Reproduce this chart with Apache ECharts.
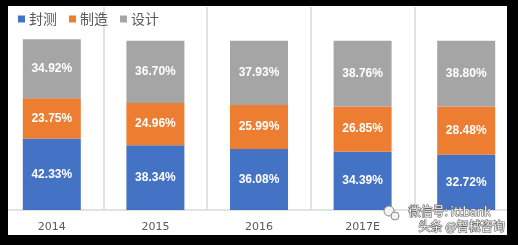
<!DOCTYPE html>
<html>
<head>
<meta charset="utf-8">
<script src="https://cdn.jsdelivr.net/npm/echarts@6/dist/echarts.min.js"></script>
<style>
  html, body { margin: 0; padding: 0; background: #000; }
  #chart { width: 518px; height: 245px; }
</style>
</head>
<body>
<div id="chart"></div>
<script>
const years = ['2014', '2015', '2016', '2017E', '2018E']
const fengce = [42.33, 38.34, 36.08, 34.39, 32.72]
const zhizao = [23.75, 24.96, 25.99, 26.85, 28.48]
const sheji = [34.92, 36.70, 37.93, 38.76, 38.80]

const colors = ['#4472c4', '#ed7d31', '#a5a5a5']

const chart = echarts.init(document.getElementById('chart'))

const barSeries = (name, data, idx) => {
  return {
    name: name,
    type: 'bar',
    stack: 'total',
    barWidth: 58,
    itemStyle: { color: colors[idx] },
    label: {
      show: true,
      position: 'inside',
      color: '#fff',
      fontSize: 12,
      fontWeight: 'bold',
      fontFamily: 'Liberation Sans',
      formatter: p => p.value.toFixed(2) + '%'
    },
    data: data
  }
}

// 水印
const markStyle = { fill: '#f4f4f4', fontFamily: 'Noto Sans CJK SC', stroke: '#666', lineWidth: 1.2 }

chart.setOption({
  backgroundColor: '#000',
  animation: false,
  legend: {
    left: 13,
    top: 7,
    itemWidth: 7,
    itemHeight: 7,
    itemGap: 12,
    icon: 'rect',
    textStyle: { color: '#595959', fontSize: 14, fontFamily: 'Noto Sans CJK SC', padding: [0, 0, 0, -1] },
    data: ['封测', '制造', '设计']
  },
  grid: { left: 0, top: 7, width: 522, height: 203 },
  xAxis: {
    type: 'category',
    data: years,
    axisLine: { lineStyle: { color: '#d9d9d9', width: 1.5 } },
    axisTick: { show: false },
    axisLabel: { color: '#595959', fontSize: 11, margin: 12, fontFamily: 'DejaVu Sans' },
    splitLine: { show: true, lineStyle: { color: '#d9d9d9', width: 1.5 } }
  },
  yAxis: {
    type: 'value',
    min: 0,
    max: 120,
    show: false,
    splitLine: { show: false }
  },
  graphic: [
    { type: 'rect', z: -10, silent: true, shape: { x: 8, y: 6, width: 499, height: 229 }, style: { fill: '#fff' } },
    { type: 'rect', z: 40, silent: true, shape: { x: 440, y: 216, width: 67, height: 19 }, style: { fill: '#fff' } },
    { type: 'rect', z: 100, silent: true, shape: { x: 0, y: 0, width: 518, height: 6 }, style: { fill: '#000' } },
    { type: 'rect', z: 100, silent: true, shape: { x: 0, y: 0, width: 8, height: 245 }, style: { fill: '#000' } },
    { type: 'rect', z: 100, silent: true, shape: { x: 507, y: 0, width: 11, height: 245 }, style: { fill: '#000' } },
    { type: 'rect', z: 100, silent: true, shape: { x: 0, y: 235, width: 518, height: 10 }, style: { fill: '#000' } },
    { type: 'circle', z: 50, silent: true, shape: { cx: 389, cy: 211, r: 5 }, style: { fill: '#f4f4f4', stroke: '#888', lineWidth: 1 } },
    { type: 'circle', z: 51, silent: true, shape: { cx: 395, cy: 216, r: 4 }, style: { fill: '#f4f4f4', stroke: '#888', lineWidth: 1 } },
    {
      type: 'text', z: 50, silent: true, left: 408, top: 205,
      style: Object.assign({ text: '微信号: ittbank', fontSize: 12 }, markStyle)
    },
    {
      type: 'text', z: 50, silent: true, left: 418, top: 220,
      style: Object.assign({ text: '头条 @智械咨询', fontSize: 12 }, markStyle)
    }
  ],
  series: [
    barSeries('封测', fengce, 0),
    barSeries('制造', zhizao, 1),
    barSeries('设计', sheji, 2)
  ]
})
</script>
</body>
</html>
